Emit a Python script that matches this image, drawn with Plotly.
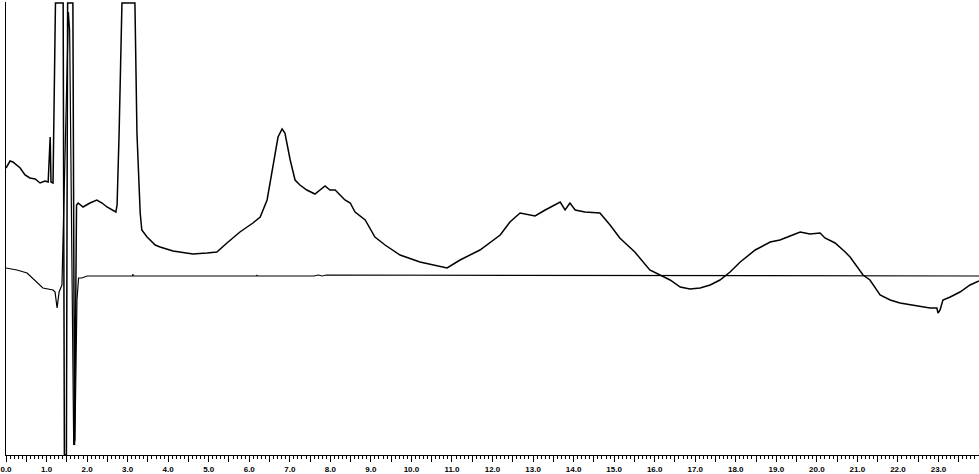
import plotly.graph_objects as go

# tempo de retencao (min) e sinal (unidades arbitrarias) - canal 1
tempo_1 = [0.00, 0.10, 0.17, 0.35, 0.47, 0.59, 0.72, 0.84, 0.96, 1.04, 1.09, 1.11, 1.16,
           1.22, 1.41, 1.44, 1.49, 1.52, 1.65, 1.69, 1.74, 1.78, 1.90, 2.07, 2.24, 2.37,
           2.49, 2.61, 2.71, 2.74, 2.79, 2.86, 3.18, 3.23, 3.31, 3.35, 3.48, 3.68, 3.80,
           4.12, 4.46, 4.61, 4.96, 5.20, 5.45, 5.77, 6.09, 6.27, 6.44, 6.59, 6.71, 6.81,
           6.88, 7.01, 7.13, 7.25, 7.42, 7.62, 7.75, 7.87, 7.99, 8.12, 8.24, 8.36, 8.49,
           8.61, 8.86, 9.10, 9.35, 9.72, 10.21, 10.71, 10.88, 11.20, 11.69, 12.19, 12.43,
           12.68, 13.05, 13.30, 13.54, 13.67, 13.79, 13.91, 14.04, 14.28, 14.65, 14.90,
           15.14, 15.51, 15.88, 16.13, 16.38, 16.63, 16.87, 17.12, 17.37, 17.61, 17.86,
           18.11, 18.48, 18.85, 19.09, 19.34, 19.59, 19.83, 20.08, 20.20, 20.45, 20.70,
           20.82, 21.14, 21.31, 21.56, 21.81, 22.05, 22.47, 22.79, 22.96, 22.99, 23.04,
           23.11, 23.29, 23.53, 23.78, 24.00]
sinal_1 = [287, 294, 293, 287, 280, 277, 276, 272, 274, 273, 318, 273, 272,
           452, 452, 0, 0, 452, 452, 10, 250, 252, 248, 252, 255, 252,
           248, 245, 243, 250, 322, 452, 452, 322, 242, 225, 218, 210, 208,
           204, 202, 201, 202, 203, 212, 223, 232, 238, 255, 288, 318, 326,
           322, 295, 275, 270, 265, 261, 265, 269, 265, 265, 260, 255, 252,
           243, 235, 218, 210, 200, 193, 189, 187, 195, 205, 220, 233,
           242, 239, 245, 250, 253, 245, 252, 245, 243, 242, 230,
           217, 203, 185, 180, 175, 168, 166, 167, 170, 175, 183,
           193, 205, 213, 215, 219, 223, 221, 222, 217, 212, 203,
           198, 180, 175, 160, 155, 152, 149, 147, 147, 142, 145,
           155, 158, 163, 170, 174]

# canal 2 (linha de base)
tempo_2 = [0.00, 0.27, 0.52, 0.76, 0.91, 1.16, 1.21, 1.26, 1.31, 1.38, 1.54, 1.57,
           1.67, 1.70, 1.75, 1.79, 1.87, 2.00, 3.12, 3.13, 3.14, 6.18, 6.19, 6.20,
           7.60, 7.70, 7.80, 7.90, 24.00]
sinal_2 = [187, 185, 182, 173, 167, 165, 163, 147, 163, 170, 443, 425,
           10, 15, 155, 177, 177, 179, 179, 181, 179, 179, 180, 179,
           179, 180, 179, 180, 179]

marcas = [i * 0.5 for i in range(49)]
rotulos = [f'{m:.1f}' if m == int(m) and m < 24 else '' for m in marcas]

fig = go.Figure()

fig.add_trace(go.Scatter(
    x=tempo_2,
    y=sinal_2,
    mode='lines',
    line=dict(color='black', width=1.2),
    showlegend=False
))

fig.add_trace(go.Scatter(
    x=tempo_1,
    y=sinal_1,
    mode='lines',
    line=dict(color='black', width=1.5),
    showlegend=False
))

fig.update_layout(
    width=979,
    height=474,
    margin=dict(l=6, r=0, t=2, b=19),
    plot_bgcolor='white',
    paper_bgcolor='white',
    xaxis=dict(
        range=[0, 24],
        showgrid=False,
        zeroline=False,
        showline=True,
        linecolor='black',
        linewidth=1,
        tickmode='array',
        tickvals=marcas,
        ticktext=rotulos,
        ticks='outside',
        ticklen=6,
        tickcolor='black',
        tickwidth=1,
        tickfont=dict(family='Liberation Sans', size=8, color='black', weight='bold'),
        minor=dict(tickmode='linear', tick0=0, dtick=0.1, ticks='outside',
                   ticklen=3, tickcolor='black', tickwidth=1)
    ),
    yaxis=dict(
        range=[0, 453],
        showgrid=False,
        zeroline=False,
        showline=True,
        linecolor='black',
        linewidth=1,
        showticklabels=False,
        ticks=''
    )
)

fig.write_html('out.html', config={'displayModeBar': False},
               post_script="document.body.style.margin='0';")
